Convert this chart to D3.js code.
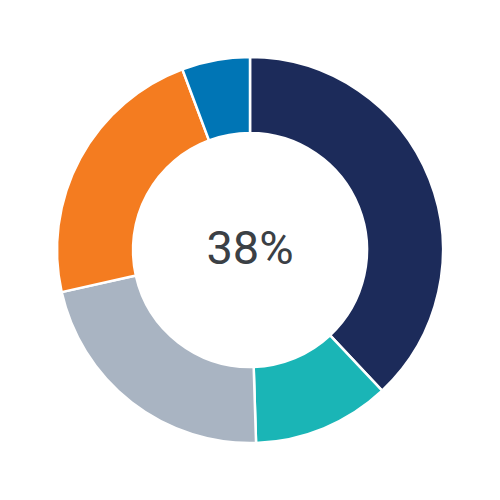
<!DOCTYPE html>
<html>
<head>
<meta charset="utf-8">
<script src="https://d3js.org/d3.v7.min.js"></script>
<style>
  body { margin: 0; background: #fff; }
</style>
</head>
<body>
<div id="chart-area"></div>
<script>
// slice shares, clockwise from 12 o'clock
let sliceNames = ["A", "B", "C", "D", "E"];
let sliceValues = [38, 11.5, 22, 22.8, 5.7];
let sliceColors = ["#1c2b5a", "#1ab5b6", "#a9b4c2", "#f47c20", "#0075b5"];
let centerLabel = "38%";

const width = 500, height = 500;
const outerR = 193, innerR = 117;

let svg = d3.select('#chart-area').append('svg')
    .attr('width', width).attr('height', height);

let g = svg.append('g').attr('transform', `translate(${width/2},${height/2})`);

let pie = d3.pie().sort(null).value(d => d.value);
let arc = d3.arc().innerRadius(innerR).outerRadius(outerR);

let data = sliceNames.map((n, i) => ({name: n, value: sliceValues[i], color: sliceColors[i]}));

g.selectAll('path').data(pie(data)).enter().append('path')
    .attr('d', arc)
    .attr('fill', d => d.data.color)
    .attr('stroke', '#fff')
    .attr('stroke-width', 2.5);

g.append('text')
    .attr('text-anchor', 'middle')
    .attr('dy', '0.3em')
    .attr('font-family', 'Roboto, "Liberation Sans", sans-serif')
    .attr('font-size', 47)
    .attr('fill', '#3b4045')
    .text(centerLabel);
</script>
</body>
</html>
